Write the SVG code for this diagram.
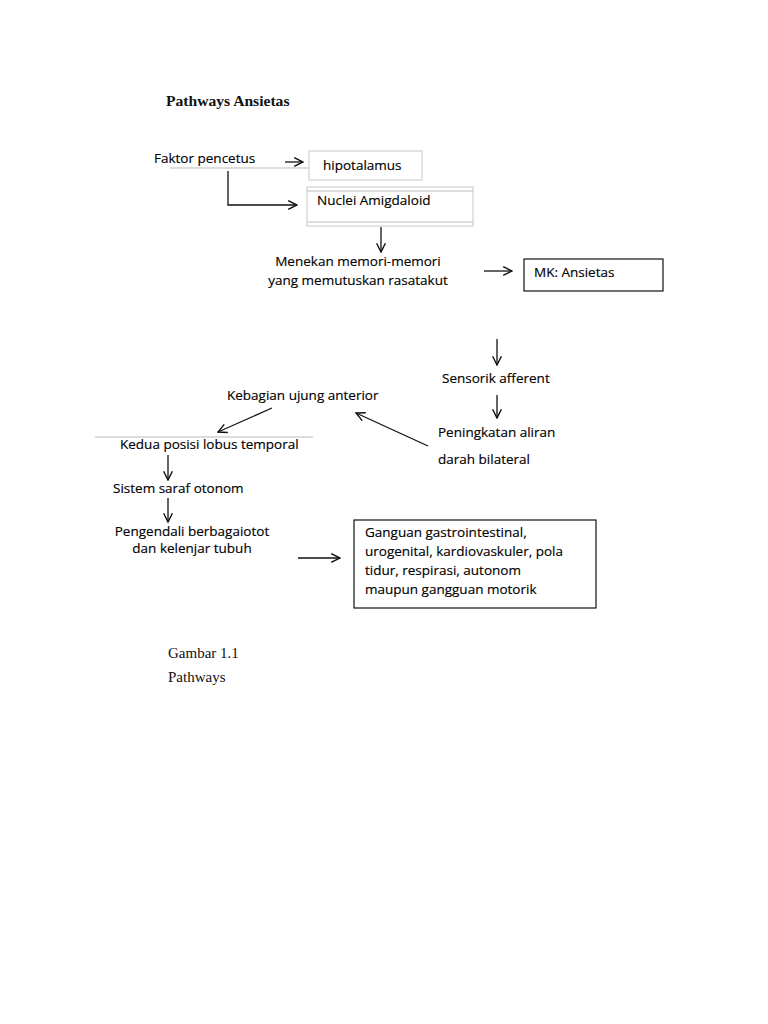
<svg xmlns="http://www.w3.org/2000/svg" width="768" height="1024" viewBox="0 0 768 1024">
<style>
.t{font-family:"Open Sans","Liberation Sans",sans-serif;font-size:13.5px;fill:#000;stroke:#000;stroke-width:0.15}
.s{font-family:"Liberation Serif","Times New Roman",serif;fill:#111}
.c{stroke:#111;stroke-width:1.3;fill:none}
.g{stroke:#bbb;stroke-width:1;fill:none}
.b{stroke:#111;stroke-width:1.2;fill:#fff}
</style>
<defs>
<marker id="a" viewBox="0 0 10 10" refX="9" refY="5" markerWidth="11" markerHeight="11" markerUnits="userSpaceOnUse" orient="auto">
<polyline points="1,1 9,5 1,9" fill="none" stroke="#111" stroke-width="1.3"/>
</marker>
</defs>
<rect width="768" height="1024" fill="#fff"/>
<text class="s" x="166" y="106" font-size="15.6" font-weight="bold">Pathways Ansietas</text>
<g id="faktor"><text class="t" x="154" y="163">Faktor pencetus</text></g>
<g id="hipotalamus"><rect x="309" y="151" width="113" height="29" fill="#fff" stroke="#c8c8c8"/><text class="t" x="323" y="170">hipotalamus</text></g>
<g id="nuclei"><rect x="307" y="187" width="166" height="39" fill="#fff" stroke="#c8c8c8"/><line x1="307" y1="191" x2="473" y2="191" class="g"/><line x1="307" y1="222" x2="473" y2="222" class="g"/><text class="t" x="317" y="205">Nuclei Amigdaloid</text></g>
<g id="menekan"><text class="t" x="358" y="266" text-anchor="middle">Menekan memori-memori</text><text class="t" x="358" y="285" text-anchor="middle">yang memutuskan rasatakut</text></g>
<g id="mk"><rect class="b" x="524" y="259" width="139" height="32"/><text class="t" x="534" y="277">MK: Ansietas</text></g>
<g id="sensorik"><text class="t" x="442" y="383">Sensorik afferent</text></g>
<g id="peningkatan"><text class="t" x="438" y="437">Peningkatan aliran</text><text class="t" x="438" y="464">darah bilateral</text></g>
<g id="kebagian"><text class="t" x="227" y="400">Kebagian ujung anterior</text></g>
<g id="kedua"><line class="g" x1="95" y1="437" x2="313" y2="437"/><text class="t" x="120" y="449">Kedua posisi lobus temporal</text></g>
<g id="sistem"><text class="t" x="113" y="493">Sistem saraf otonom</text></g>
<g id="pengendali"><text class="t" x="192" y="536" text-anchor="middle">Pengendali berbagaiotot</text><text class="t" x="192" y="553" text-anchor="middle">dan kelenjar tubuh</text></g>
<g id="ganguan"><rect class="b" x="354" y="520" width="242" height="88"/>
<text class="t" x="365" y="537">Ganguan gastrointestinal,</text>
<text class="t" x="365" y="556">urogenital, kardiovaskuler, pola</text>
<text class="t" x="365" y="575">tidur, respirasi, autonom</text>
<text class="t" x="365" y="594">maupun gangguan motorik</text></g>
<g id="connectors">
<line class="g" x1="170" y1="168" x2="308" y2="168"/>
<line class="c" x1="285" y1="162" x2="303" y2="162" marker-end="url(#a)"/>
<polyline class="c" points="228,171 228,205 297,205" marker-end="url(#a)"/>
<line class="c" x1="381" y1="227" x2="381" y2="252" marker-end="url(#a)"/>
<line class="c" x1="484" y1="271" x2="512" y2="271" marker-end="url(#a)"/>
<line class="c" x1="497" y1="339" x2="497" y2="365" marker-end="url(#a)"/>
<line class="c" x1="497" y1="395" x2="497" y2="418" marker-end="url(#a)"/>
<line class="c" x1="428" y1="446" x2="356" y2="413" marker-end="url(#a)"/>
<line class="c" x1="272" y1="408" x2="218" y2="432" marker-end="url(#a)"/>
<line class="c" x1="168" y1="455" x2="168" y2="480" marker-end="url(#a)"/>
<line class="c" x1="168" y1="498" x2="168" y2="522" marker-end="url(#a)"/>
<line class="c" x1="298" y1="558" x2="340" y2="558" marker-end="url(#a)"/>
</g>
<text class="s" x="168" y="658" font-size="15">Gambar 1.1</text>
<text class="s" x="168" y="682" font-size="15">Pathways</text>
</svg>
